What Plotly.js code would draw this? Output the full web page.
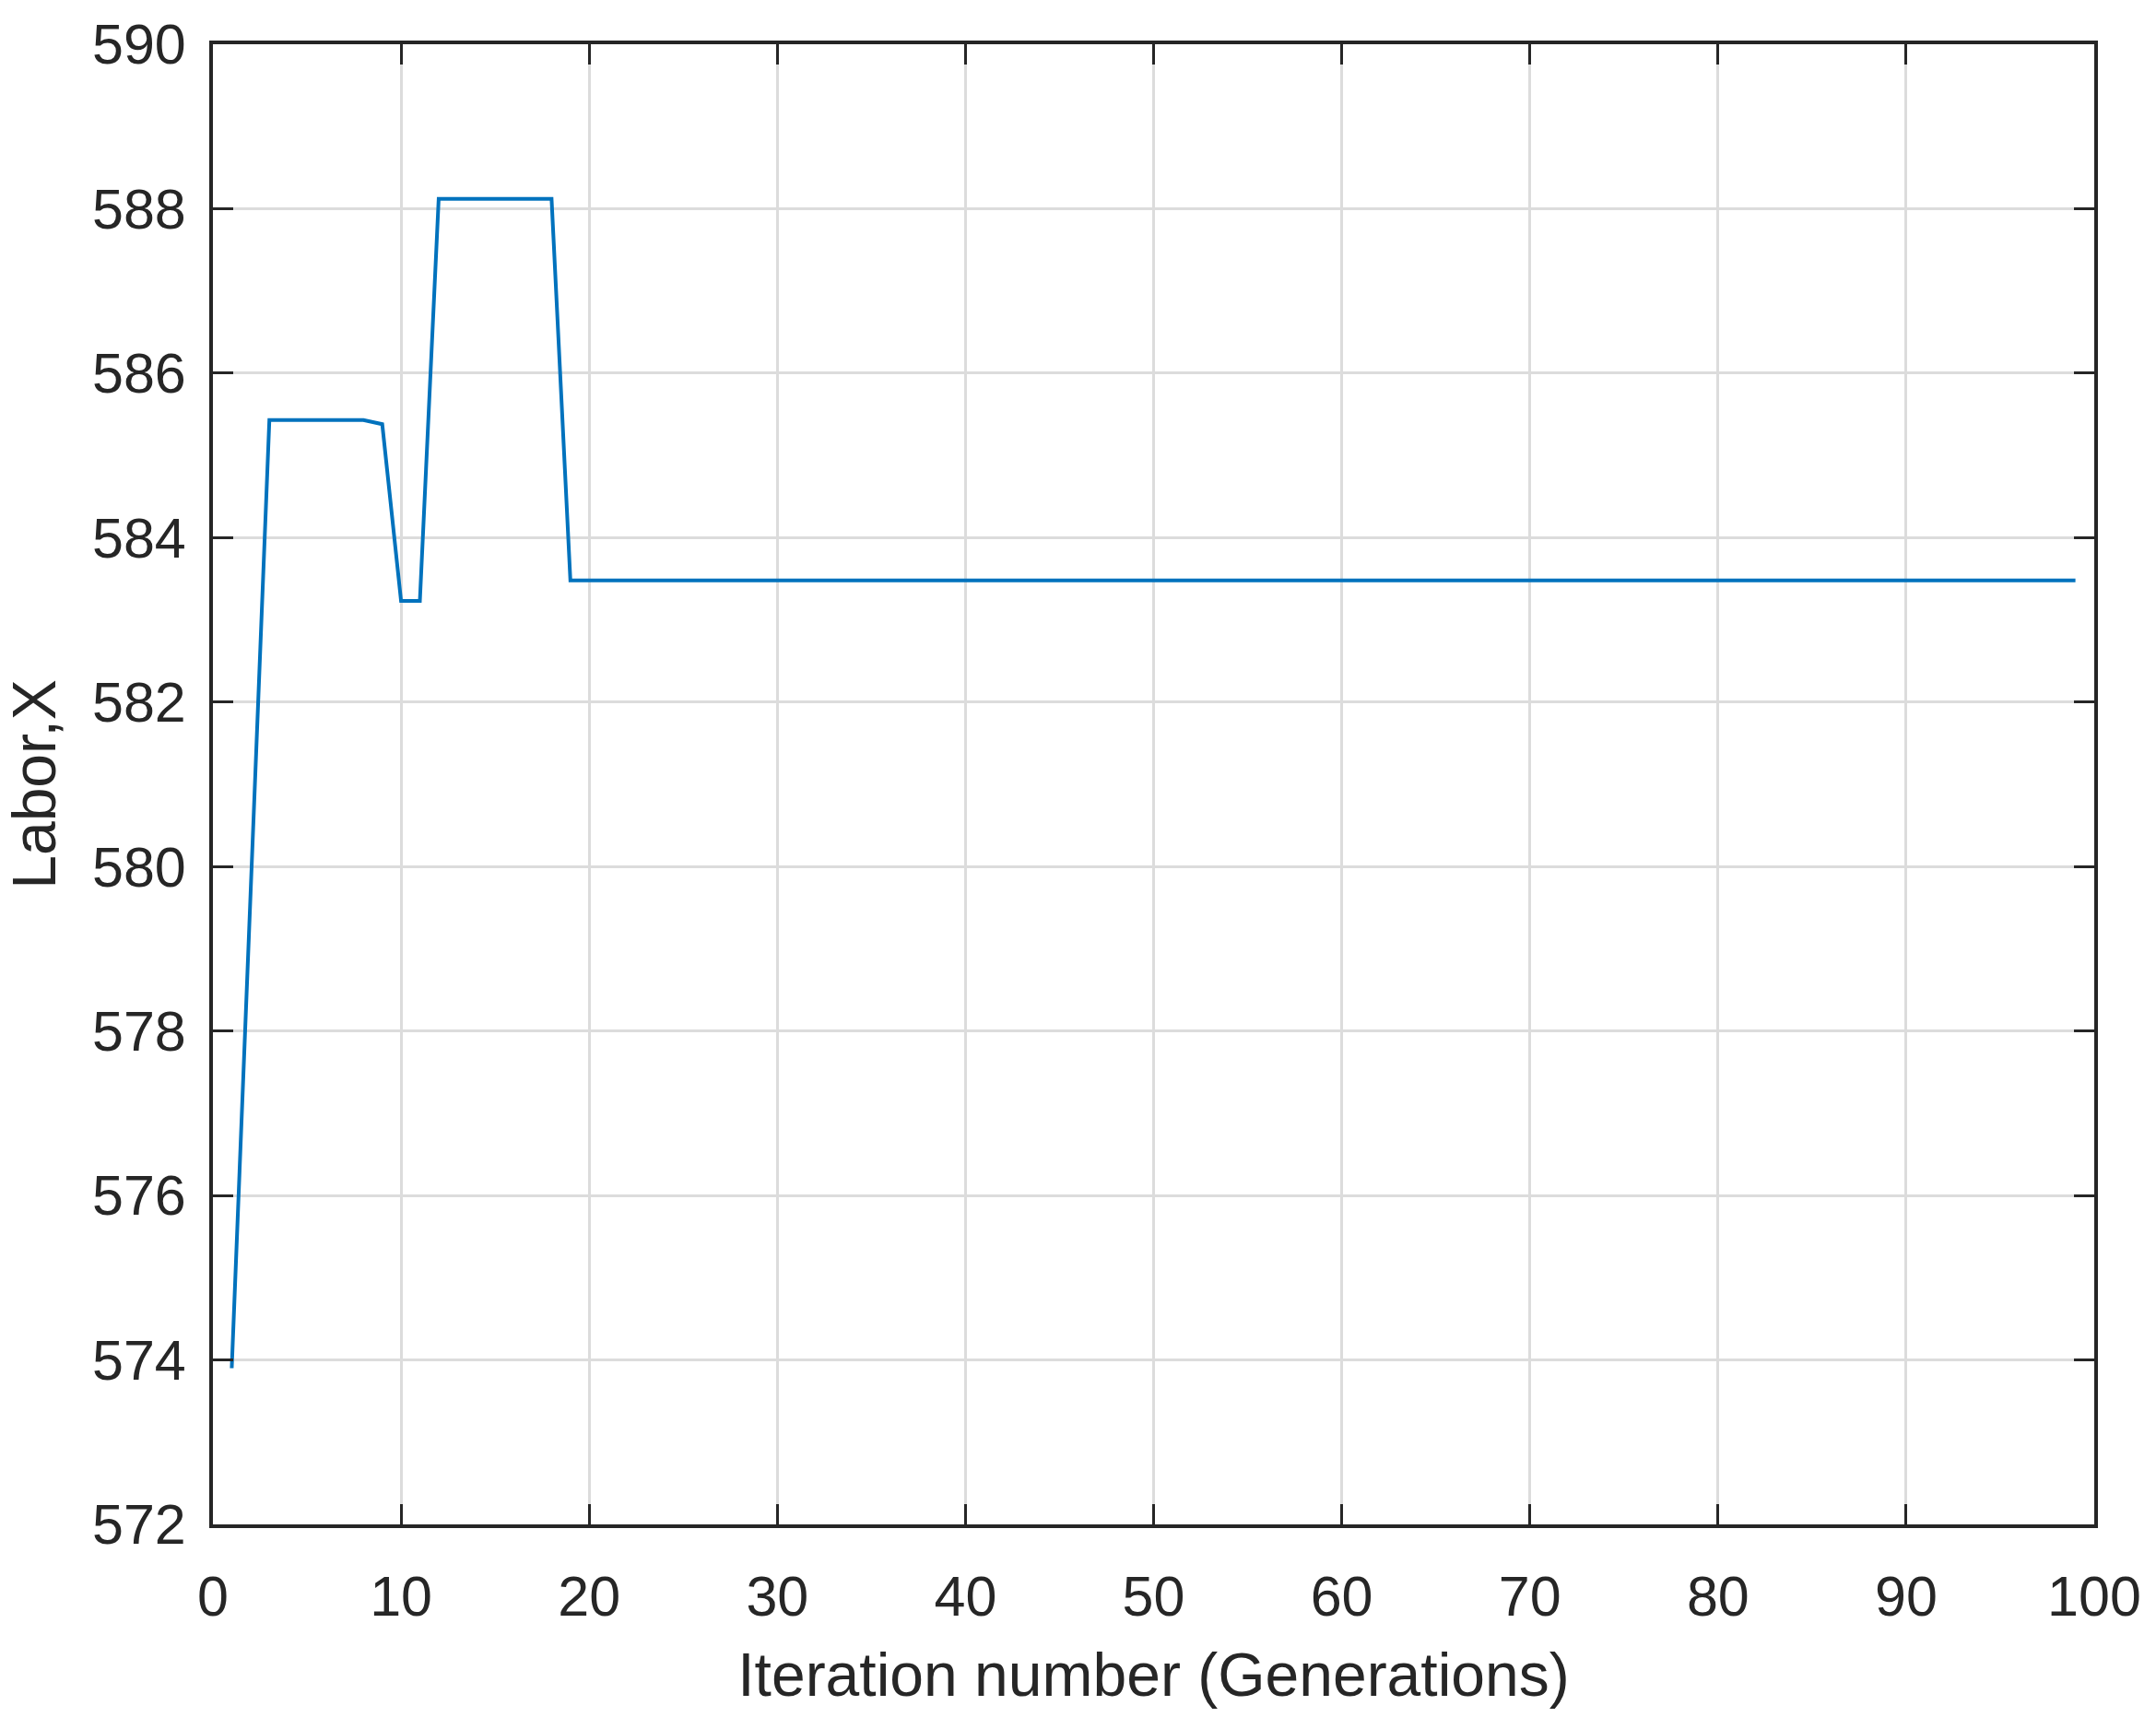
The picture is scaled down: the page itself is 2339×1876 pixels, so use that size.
<!DOCTYPE html>
<html>
<head>
<meta charset="utf-8">
<script src="https://cdn.plot.ly/plotly-3.0.1.min.js"></script>
<style>html,body{margin:0;padding:0;background:#fff;}#chart{width:2339px;height:1876px;}</style>
</head>
<body>
<div id="chart"></div>
<script>
// Breakpoints of the best-solution trace (iteration, Labor X)
const iterations = [1, 3, 8, 9, 10, 11, 12, 18, 19, 99];
const laborX = [573.9, 585.43, 585.43, 585.38, 583.23, 583.23, 588.12, 588.12, 583.48, 583.48];
const xTicks = [0, 10, 20, 30, 40, 50, 60, 70, 80, 90, 100];
const yTicks = [572, 574, 576, 578, 580, 582, 584, 586, 588, 590];

const axisColor = '#262626';
const fontFam = '"Liberation Sans", Arial, Helvetica, sans-serif';

const trace = {
  x: iterations, y: laborX, type: 'scatter', mode: 'lines',
  line: {color: '#0072BD', width: 4}, showlegend: false, hoverinfo: 'skip'
};

const layout = {
  width: 2339, height: 1876,
  margin: {l: 231, r: 67, t: 48, b: 222, pad: 0},
  paper_bgcolor: '#ffffff', plot_bgcolor: '#ffffff',
  font: {family: fontFam, color: axisColor, size: 61},
  xaxis: {
    range: [0, 100], tickvals: xTicks, ticktext: xTicks.map(String),
    showline: true, linecolor: axisColor, linewidth: 4, mirror: 'ticks',
    ticks: 'inside', ticklen: 22, tickwidth: 3, tickcolor: axisColor,
    showgrid: true, gridcolor: '#dcdcdc', gridwidth: 3, zeroline: false,
    tickfont: {family: fontFam, size: 61, color: axisColor},
    ticklabelstandoff: 22,
    title: {text: 'Iteration number (Generations)', font: {family: fontFam, size: 66, color: axisColor}, standoff: 30},
    automargin: false
  },
  yaxis: {
    range: [572, 590], tickvals: yTicks, ticktext: yTicks.map(String),
    showline: true, linecolor: axisColor, linewidth: 4, mirror: 'ticks',
    ticks: 'inside', ticklen: 22, tickwidth: 3, tickcolor: axisColor,
    showgrid: true, gridcolor: '#dcdcdc', gridwidth: 3, zeroline: false,
    tickfont: {family: fontFam, size: 61, color: axisColor},
    ticklabelstandoff: 13,
    title: {text: 'Labor,X', font: {family: fontFam, size: 66, color: axisColor}, standoff: 32},
    automargin: false
  }
};

Plotly.newPlot('chart', [trace], layout, {staticPlot: true, displayModeBar: false});
</script>
</body>
</html>
